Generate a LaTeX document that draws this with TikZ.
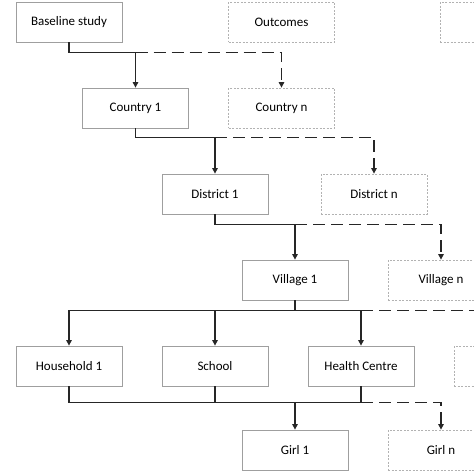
\documentclass[tikz,border=0pt]{standalone}
\usepackage{fontspec}
\setmainfont{Carlito}
\usepackage{tikz}
\usetikzlibrary{
	arrows.meta,
	positioning,
	calc
}

\begin{document}
\begin{tikzpicture}[
				x=1pt, y=-1pt,
				stage/.style={
					rectangle, draw=gray!75, line width=0.8pt,
					minimum width=106pt, minimum height=40pt,
					align=center, text=black,
					font=\fontsize{13}{15}\selectfont
				},
				levelbox/.style={
					stage
				},
				morebox/.style={
					stage, draw=gray!60, dash pattern=on 2pt off 1.5pt
				},
				arrow/.style={-{Triangle[length=5.5pt,width=5.5pt]}, line width=1.1pt, black!85},
				link/.style={line width=1.1pt, black!85},
				dasharrow/.style={arrow, dash pattern=on 12pt off 6pt}
				]
				\useasboundingbox (0,0) rectangle (474,474);
				\clip (0,0) rectangle (474,474);
				
				% Baseline study
				\node[levelbox] (baseline) at (69,22) {Baseline study};
				
				% outcomes
				\node[morebox] (outcomes) at (281.5,22) {Outcomes};
				\node[morebox] (extra) at (493,22) {};
				
				% countries
				\node[levelbox] (country1) at (135.5,108) {Country 1};
				\node[morebox] (countryN) at (281.5,108) {Country n};
				
				% districts
				\node[levelbox] (district1) at (215,194) {District 1};
				\node[morebox] (districtN) at (374,194) {District n};
				
				% villages
				\node[levelbox] (village1) at (295,280) {Village 1};
				\node[morebox] (villageN) at (441,280) {Village n};
				
				% household, school, health centre
				\node[levelbox] (household) at (69,366) {Household 1};
				\node[levelbox] (school) at (215,366) {School};
				\node[levelbox] (health) at (361,366) {Health Centre};
				\node[morebox] (unitN) at (507,366) {};
				
				% girls
				\node[levelbox] (girl1) at (295,450) {Girl 1};
				\node[morebox] (girlN) at (441,450) {Girl n};
				
				% baseline -> country
				\draw[arrow] (baseline.south) -- ++(0,10) coordinate (j1) -| (country1.north);
				\draw[dasharrow] (j1 -| country1.north) -| (countryN.north);
				
				% country -> district
				\draw[arrow] (country1.south) -- ++(0,9) coordinate (j2) -| (district1.north);
				\draw[dasharrow] (j2 -| district1.north) -| (districtN.north);
				
				% district -> village
				\draw[arrow] (district1.south) -- ++(0,10) coordinate (j3) -| (village1.north);
				\draw[dasharrow] (j3 -| village1.north) -| (villageN.north);
				
				% village -> household, school, health centre
				\draw[link] (village1.south) -- ++(0,10) coordinate (j4);
				\draw[arrow] (j4) -| (household.north);
				\draw[arrow] (j4) -| (school.north);
				\draw[arrow] (j4) -| (health.north);
				\draw[dasharrow] (j4 -| health.north) -| (unitN.north);
				
				% household, school, health centre -> girl
				\draw[link] (household.south) -- ++(0,16) coordinate (j5) -| (health.south);
				\draw[link] (school.south) -- (school.south |- j5);
				\draw[arrow] (j5 -| girl1.north) -- (girl1.north);
				\draw[dasharrow] (j5 -| health.south) -| (girlN.north);
			\end{tikzpicture}
\end{document}
